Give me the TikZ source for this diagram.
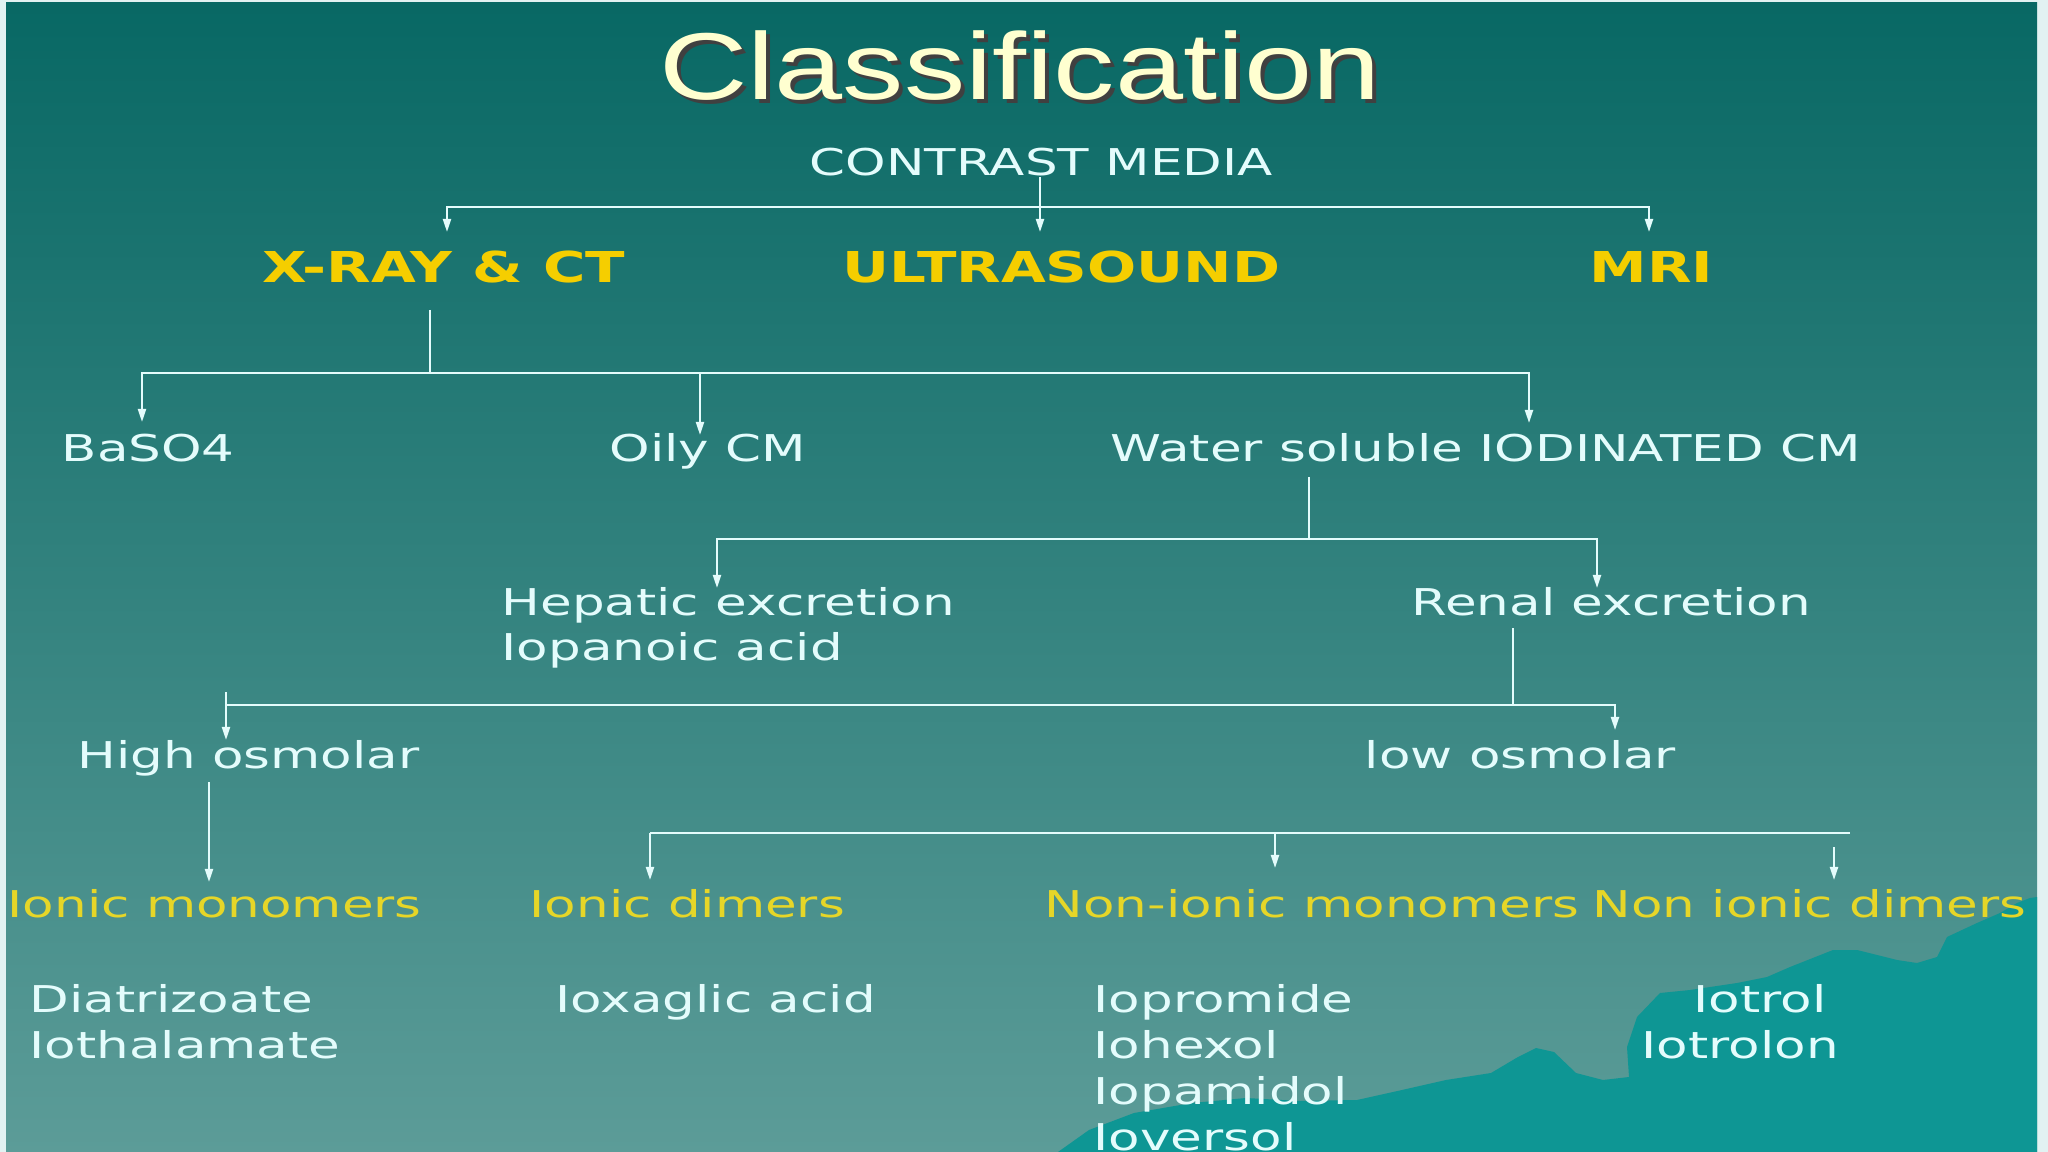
\documentclass[tikz,border=0pt]{standalone}
\usepackage{fontspec}
\setmainfont{DejaVu Sans}[FakeStretch=1.395]
\newfontfamily\headfont{DejaVu Sans}[FakeStretch=1.36]
\newfontfamily\titlefont{Liberation Sans}[FakeStretch=1.29]
\usetikzlibrary{arrows.meta}

\definecolor{slidetop}{RGB}{8,104,100}
\definecolor{slidebottom}{RGB}{92,156,152}
\definecolor{ridge}{RGB}{14,150,148}
\definecolor{edgepale}{RGB}{226,242,242}
\definecolor{pale}{RGB}{228,252,252}
\definecolor{gold}{RGB}{245,206,0}
\definecolor{softgold}{RGB}{230,214,40}
\definecolor{cream}{RGB}{255,255,208}

\tikzset{
  txt/.style={anchor=base west, inner sep=0pt, text=pale, font=\fontsize{10.5}{13}\selectfont},
  sub/.style={txt, text=softgold},
  head/.style={anchor=base west, inner sep=0pt, text=gold, font=\headfont\bfseries\fontsize{12.1}{14}\selectfont},
  titletxt/.style={anchor=base, inner sep=0pt, font=\titlefont\fontsize{27}{30}\selectfont},
  link/.style={draw=pale, line width=0.6pt},
  arr/.style={link, -{Triangle[length=0.13cm,width=0.08cm]}}
}

\begin{document}
\begin{tikzpicture}[x=0.01cm,y=-0.01cm]
  \useasboundingbox (0,0) rectangle (2048,1152);
  \fill[edgepale] (0,0) rectangle (2048,1152);
  \shade[top color=slidetop, bottom color=slidebottom] (6,3) rectangle (2037,1152);
  \fill[ridge] (1058,1152) -- (1089,1130) -- (1134,1113) -- (1192,1103) -- (1246,1098)
    -- (1300,1101) -- (1357,1100) -- (1402,1090) -- (1446,1080) -- (1491,1073)
    -- (1518,1057) -- (1536,1048) -- (1554,1052) -- (1576,1073) -- (1603,1080)
    -- (1629,1077) -- (1627,1047) -- (1637,1017) -- (1660,993) -- (1690,990)
    -- (1737,983) -- (1767,977) -- (1790,967) -- (1833,950) -- (1857,950)
    -- (1897,960) -- (1917,963) -- (1937,957) -- (1947,937) -- (1977,923)
    -- (2000,913) -- (2017,903) -- (2030,898) -- (2037,897) -- (2037,1152) -- cycle;

  \node[titletxt, text=black!75] (titleshadow) at (1024,104) {Classification};
  \node[titletxt, text=cream] (title) at (1020,100) {Classification};

  \node[txt] (contrast) at (809,176) {CONTRAST MEDIA};
  \node[head] (xray) at (262,283) {X-RAY \& CT};
  \node[head] (ultra) at (842,283) {ULTRASOUND};
  \node[head] (mri) at (1589,283) {MRI};

  \node[txt] (baso) at (61,462) {BaSO4};
  \node[txt] (oily) at (609,462) {Oily CM};
  \node[txt] (water) at (1110,462) {Water soluble IODINATED CM};

  \node[txt] (hepatic) at (501,615) {Hepatic excretion};
  \node[txt] (iopanoic) at (501,660) {Iopanoic acid};
  \node[txt] (renal) at (1411,615) {Renal excretion};

  \node[txt] (high) at (77,768) {High osmolar};
  \node[txt] (low) at (1364,768) {low osmolar};

  \node[sub] (ionmono) at (7,917) {Ionic monomers};
  \node[sub] (iondi) at (529,917) {Ionic dimers};
  \node[sub] (nimono) at (1044,917) {Non-ionic monomers};
  \node[sub] (nidi) at (1592,917) {Non ionic dimers};

  \node[txt] (diatrizoate) at (29,1012) {Diatrizoate};
  \node[txt] (iothalamate) at (29,1058) {Iothalamate};
  \node[txt] (ioxaglic) at (555,1012) {Ioxaglic acid};
  \foreach \drug [count=\i from 0] in {Iopromide,Iohexol,Iopamidol,Ioversol}
    \node[txt] (nimono-\i) at (1093,1012+46*\i) {\drug};
  \node[txt] (iotrol) at (1693,1012) {Iotrol};
  \node[txt] (iotrolon) at (1641,1058) {Iotrolon};

  \coordinate (bar1) at (1040,207);
  \coordinate (xray-in) at (447,232);
  \coordinate (ultra-in) at (1040,232);
  \coordinate (mri-in) at (1649,232);
  \draw[arr] (contrast.south -| ultra-in) -- (ultra-in);
  \draw[arr] (bar1) -| (xray-in);
  \draw[arr] (bar1) -| (mri-in);

  \coordinate (xray-out) at (430,310);
  \coordinate (bar2) at (430,373);
  \coordinate (baso-in) at (142,422);
  \coordinate (oily-in) at (700,435);
  \coordinate (water-in) at (1529,423);
  \draw[link] (xray-out) -- (bar2);
  \draw[arr] (bar2) -| (baso-in);
  \draw[arr] (bar2) -| (oily-in);
  \draw[arr] (bar2) -| (water-in);

  \coordinate (water-out) at (1309,477);
  \coordinate (bar3) at (1309,539);
  \coordinate (hepatic-in) at (717,588);
  \coordinate (renal-in) at (1597,588);
  \draw[link] (water-out) -- (bar3);
  \draw[arr] (bar3) -| (hepatic-in);
  \draw[arr] (bar3) -| (renal-in);

  \coordinate (renal-out) at (1513,628);
  \coordinate (bar4) at (1513,705);
  \coordinate (high-top) at (226,692);
  \coordinate (high-in) at (226,740);
  \coordinate (low-in) at (1615,730);
  \draw[link] (renal-out) -- (bar4);
  \draw[link] (bar4) -- (bar4 -| high-in);
  \draw[arr] (high-top) -- (high-in);
  \draw[arr] (bar4) -| (low-in);

  \coordinate (high-out) at (209,782);
  \coordinate (ionmono-in) at (209,882);
  \draw[arr] (high-out) -- (ionmono-in);

  \coordinate (bar5) at (650,833);
  \coordinate (bar5-end) at (1850,833);
  \coordinate (iondi-in) at (650,880);
  \coordinate (nimono-in) at (1275,868);
  \coordinate (nidi-top) at (1834,847);
  \coordinate (nidi-in) at (1834,880);
  \draw[link] (bar5) -- (bar5-end);
  \draw[arr] (bar5) -- (iondi-in);
  \draw[arr] (bar5 -| nimono-in) -- (nimono-in);
  \draw[arr] (nidi-top) -- (nidi-in);
\end{tikzpicture}
\end{document}
